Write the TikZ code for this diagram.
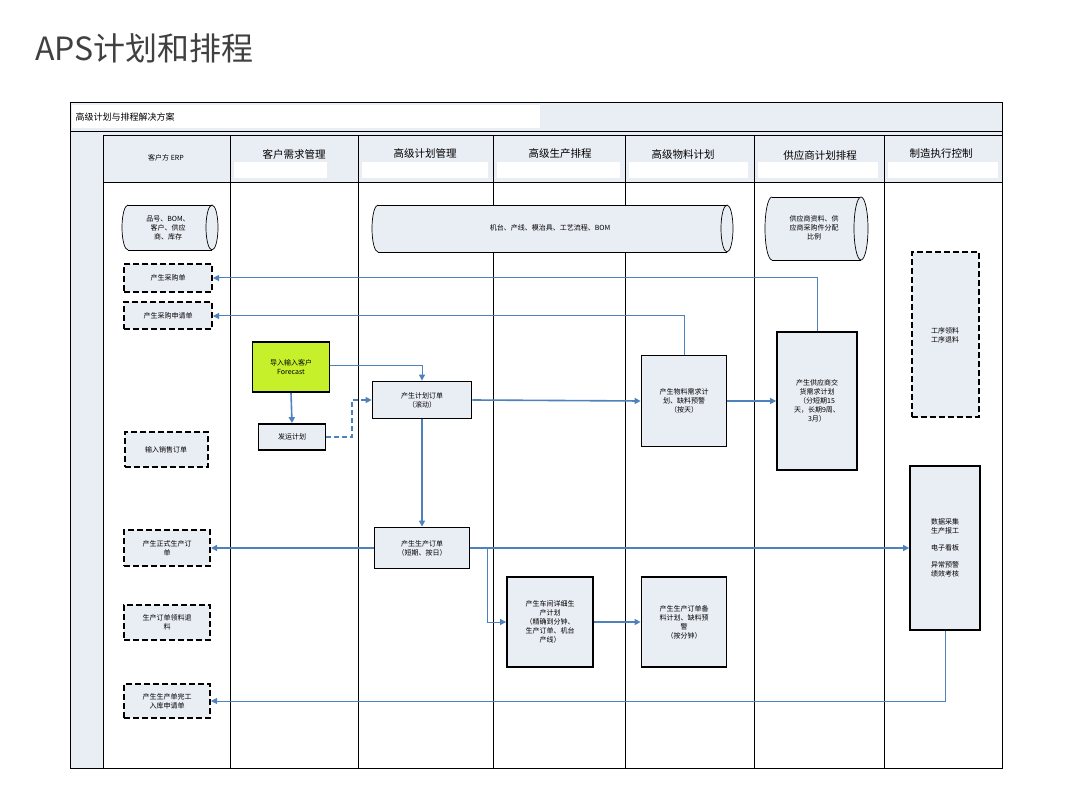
\documentclass[tikz,border=0pt]{standalone}
\usepackage{fontspec}
\setmainfont{Noto Sans CJK SC}
\usetikzlibrary{arrows.meta}
\definecolor{bx}{HTML}{E9EDF4}
\definecolor{ar}{HTML}{4F81BD}
\definecolor{gr}{HTML}{C6F02A}
\newcommand{\mycyl}[5]{% x1 y1 x2 y2 r
  \fill[bx] ({#1+#5},#2) rectangle ({#3-#5},#4);
  \begin{scope}\clip ({#1-1},{#2-1}) rectangle ({#1+#5},{#4+1});
  \filldraw[fill=bx,line width=0.7pt] ({#1+#5},{(#2+#4)/2}) ellipse[x radius=#5,y radius={(#4-#2)/2}];\end{scope}
  \draw[line width=0.7pt] ({#1+#5},#2) -- ({#3-#5},#2) ({#1+#5},#4) -- ({#3-#5},#4);
  \filldraw[fill=bx,line width=0.7pt] ({#3-#5},{(#2+#4)/2}) ellipse[x radius=#5,y radius={(#4-#2)/2}];}
\begin{document}
\begin{tikzpicture}[x=1pt,y=-1pt,
  solidbox/.style={draw,line width=1.8pt,fill=bx,font=\fontsize{7}{9}\selectfont,align=center,inner sep=1pt},
  dbox/.style={draw,line width=2pt,dash pattern=on 6pt off 3pt,fill=bx,font=\fontsize{7}{9}\selectfont,align=center,inner sep=1pt},
  ctext/.style={font=\fontsize{7}{9}\selectfont,align=center,inner sep=1pt},
  hd/.style={font=\fontsize{10.5}{12}\selectfont},
  arr/.style={draw=ar,line width=1.6pt,-{Triangle[length=6pt,width=6pt]}},
  thin/.style={draw=ar,line width=1pt,-{Triangle[length=6pt,width=6pt]}}]
\useasboundingbox (0,0) rectangle (1080,810);
\fill[white] (0,0) rectangle (1080,810);
\node[anchor=west,text=black!75,font=\fontsize{32}{36}\selectfont] (ttl) at (32,48) {APS计划和排程};
% frame
\fill[bx] (70,103) rectangle (1002,768);
\fill[white] (72,105) rectangle (540,128);
\fill[white] (103,182) rectangle (1002,768);
\draw[line width=1pt] (70,103) rectangle (1002,768);
\draw[line width=1pt] (70,132) -- (1002,132);
\draw[line width=0.6pt] (103,135) -- (1002,135);
\draw[line width=0.6pt] (103,182) -- (1002,182);
\foreach \x in {103,230,358,493,625,754,884} \draw[line width=0.6pt] (\x,135) -- (\x,768);
\node[anchor=west,font=\fontsize{9}{11}\selectfont] (sol) at (72,117) {高级计划与排程解决方案};
\foreach \x/\y in {234/327,362/488,497/620,629/748,758/878,888/998}
  \fill[white] (\x,162) rectangle (\y,178);
\node[font=\fontsize{7}{9}\selectfont] (h1) at (166,158) {客户方 ERP};
\node[hd] (h2) at (294,154) {客户需求管理};
\node[hd] (h3) at (425,154) {高级计划管理};
\node[hd] (h4) at (560,154) {高级生产排程};
\node[hd] (h5) at (683,155) {高级物料计划};
\node[hd] (h6) at (820,156) {供应商计划排程};
\node[hd] (h7) at (941,154) {制造执行控制};
% databases
\mycyl{122}{205}{218}{250}{6}
\node[ctext] (db1) at (168,228) {品号、BOM、\\客户、供应\\商、库存};
\mycyl{372}{205}{733}{252}{6}
\node[ctext] (db2) at (550,228) {机台、产线、模治具、工艺流程、BOM};
\mycyl{765}{197}{868}{260}{7}
\node[ctext] (db3) at (814,228) {供应商资料、供\\应商采购件分配\\比例};
% nodes
\node[dbox,minimum width=88pt,minimum height=28pt] (cg) at (168,278) {产生采购单};
\node[dbox,minimum width=88pt,minimum height=27pt] (sq) at (168,316) {产生采购申请单};
\node[solidbox,fill=gr,minimum width=77pt,minimum height=50pt,text width=72pt] (fc) at (291,367) {导入输入客户\\Forecast};
\node[solidbox,minimum width=67pt,minimum height=26pt] (fy) at (292,437) {发运计划};
\node[solidbox,minimum width=99pt,minimum height=37pt] (jh) at (422,400) {产生计划订单\\（滚动）};
\node[dbox,minimum width=83pt,minimum height=35pt] (xs) at (166,450) {输入销售订单};
\node[solidbox,minimum width=85pt,minimum height=91pt,text width=80pt] (wl) at (684,401) {产生物料需求计\\划、缺料预警\\（按天）};
\node[solidbox,minimum width=80pt,minimum height=138pt,text width=76pt] (gy) at (817,401) {产生供应商交\\货需求计划\\（分短期15\\天，长期9周、\\3月）};
\node[dbox,minimum width=67pt,minimum height=165pt] (gx) at (945,335) {工序领料\\工序退料};
\node[solidbox,minimum width=70pt,minimum height=164pt,text width=66pt] (sj) at (945,548) {数据采集\\生产报工\\[8pt]电子看板\\[8pt]异常预警\\绩效考核};
\node[solidbox,minimum width=95pt,minimum height=41pt] (sc) at (422,548) {产生生产订单\\（短期、按日）};
\node[dbox,minimum width=86pt,minimum height=36pt,text width=82pt] (zs) at (167,548) {产生正式生产订\\单};
\node[dbox,minimum width=86pt,minimum height=35pt,text width=82pt] (ll) at (167,622) {生产订单领料退\\料};
\node[dbox,minimum width=86pt,minimum height=34pt,text width=82pt] (wg) at (167,701) {产生生产单完工\\入库申请单};
\node[solidbox,minimum width=86pt,minimum height=90pt,text width=82pt] (cj) at (550,622) {产生车间详细生\\产计划\\（精确到分钟、\\生产订单、机台\\产线）};
\node[solidbox,minimum width=85pt,minimum height=90pt,text width=80pt] (bl) at (684,622) {产生生产订单备\\料计划、缺料预\\警\\（按分钟）};
% connectors
\draw[thin] (gy.north) |- (cg.east);
\draw[thin] (wl.north) |- (sq.east);
\draw[thin] (fc.east |- 0,366) -| (jh.north);
\draw[arr] (fc.south) -- (fy.north);
\coordinate (d1) at (352,400);
\draw[draw=ar,line width=1.6pt,dash pattern=on 5pt off 3pt,-{Triangle[length=6pt,width=6pt]}] (fy.east) -| (d1) -- (jh.west);
\draw[arr] (jh.east) -- (wl.west);
\draw[arr] (wl.east) -- (gy.west);
\draw[arr] (jh.south) -- (sc.north);
\draw[arr] (sc.west) -- (zs.east);
\draw[arr] (sc.east) -- (sj.west);
\coordinate (s1) at (487,548);
\draw[thin] (s1) |- (cj.west);
\draw[arr] (cj.east) -- (bl.west);
\draw[thin] (sj.south) |- (wg.east);
\end{tikzpicture}
\end{document}
